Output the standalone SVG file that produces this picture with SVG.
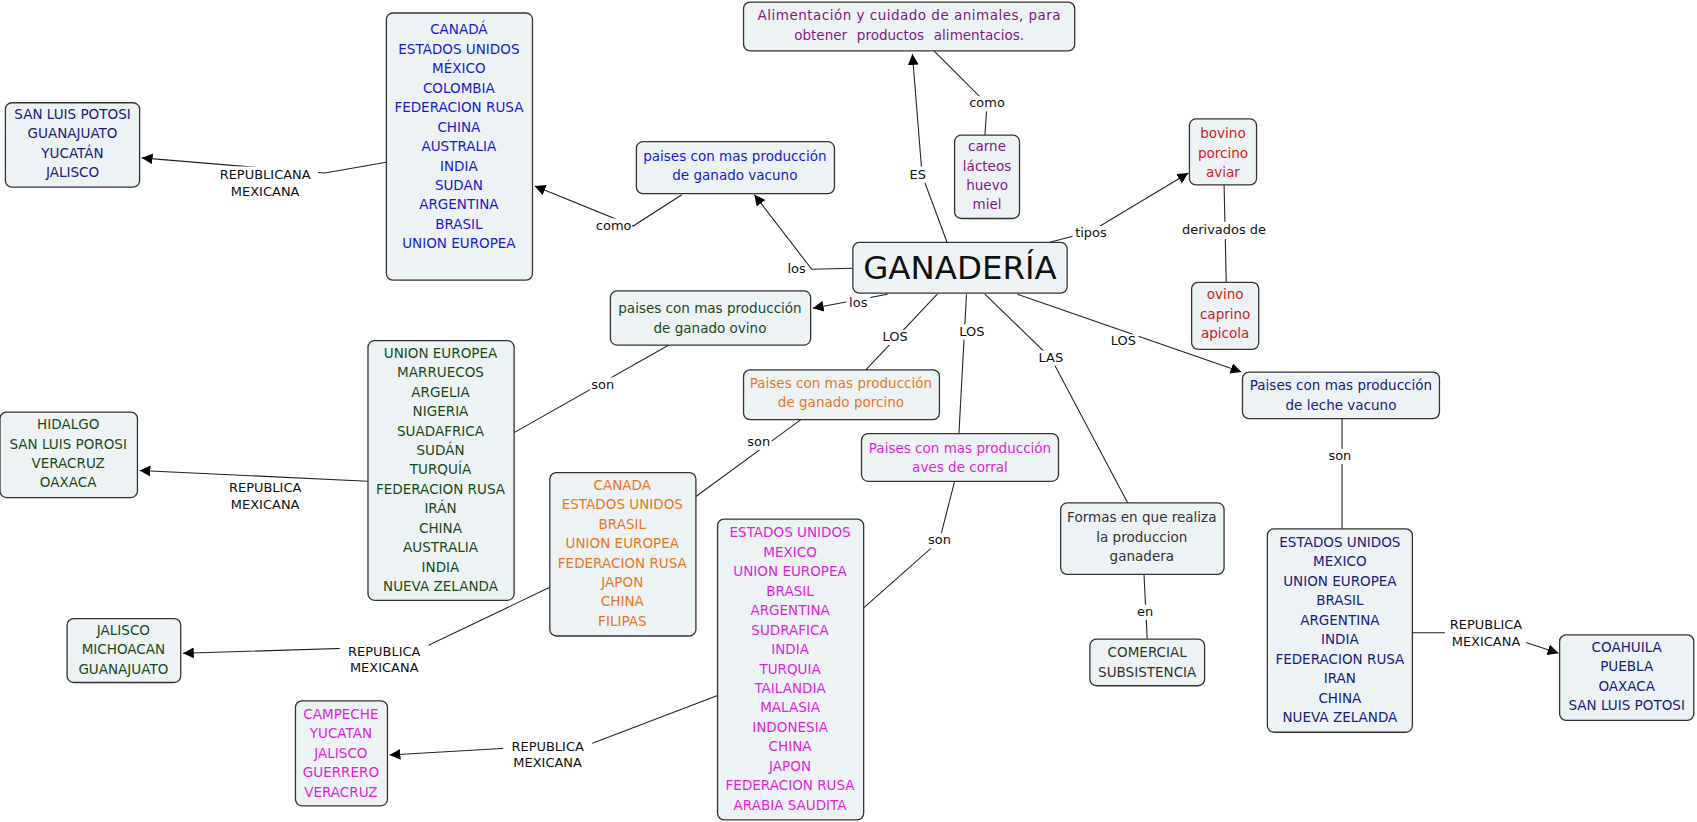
<svg xmlns="http://www.w3.org/2000/svg" width="1697" height="822" viewBox="0 0 1697 822">
<defs>
<marker id="ar" viewBox="0 0 10 10" refX="10" refY="5" markerWidth="10" markerHeight="10" markerUnits="userSpaceOnUse" orient="auto"><path d="M0,0 L10,5 L0,10 z" fill="#000"/></marker>
<style>
.b{fill:#edf3f5;stroke:#333;stroke-width:1.2}
text{font-family:"DejaVu Sans",Verdana,sans-serif;font-size:12.5px;text-anchor:middle;dominant-baseline:middle}
.l{font-size:12px;fill:#111}
.c{fill:none;stroke:#222;stroke-width:1}
.a{marker-end:url(#ar)}
.bl{fill:#1a1ad0}.nv{fill:#1a2080}.pu{fill:#801a80}.rd{fill:#d01a1a}.gr{fill:#1a4a1a}.or{fill:#e87722}.mg{fill:#e01ee0}.dk{fill:#333}
</style>
</defs>
<rect width="1697" height="822" fill="#fff"/>
<g transform="scale(1.0823,1.0816)">
<g id="connectors">
<path class="c a" d="M875,224 L852,162 L843,50"/><rect x="838" y="154" width="20" height="15" fill="#fff"/><text class="l" x="848" y="162">ES</text>
<path class="c" d="M910,125 L912,96 L863,47"/><rect x="895" y="89" width="34" height="14" fill="#fff"/><text class="l" x="912" y="96">como</text>
<path class="c a" d="M970,224 L1008,214 L1098,160"/><rect x="991" y="209" width="34" height="14" fill="#fff"/><text class="l" x="1008" y="216">tipos</text>
<path class="c" d="M1131,171 L1133,261"/><rect x="1086" y="205" width="90" height="16" fill="#fff"/><text class="l" x="1131" y="213">derivados de</text>
<path class="c a" d="M788,248 L750,249 L697,180"/><text class="l" x="736" y="249">los</text>
<path class="c a" d="M630,180 L585,209 L494,172"/><rect x="550" y="202" width="34" height="14" fill="#fff"/><text class="l" x="567" y="209">como</text>
<path class="c a" d="M357,150 L300,160 L131,146"/><rect x="198" y="154" width="96" height="32" fill="#fff"/><text class="l" x="245" y="162">REPUBLICANA</text><text class="l" x="245" y="178">MEXICANA</text>
<path class="c a" d="M820,272 L751,285"/><rect x="782" y="274" width="22" height="14" fill="#fff"/><text class="l" x="793" y="281">los</text>
<path class="c" d="M618,319 L475,400"/><rect x="545" y="349" width="24" height="14" fill="#fff"/><text class="l" x="557" y="356">son</text>
<path class="c a" d="M340,445 L129,435"/><rect x="204" y="444" width="82" height="31" fill="#fff"/><text class="l" x="245" y="452">REPUBLICA</text><text class="l" x="245" y="467">MEXICANA</text>
<path class="c" d="M866,272 L800,342"/><rect x="813" y="305" width="28" height="14" fill="#fff"/><text class="l" x="827" y="312">LOS</text>
<path class="c" d="M740,388 L643,459"/><rect x="689" y="402" width="24" height="14" fill="#fff"/><text class="l" x="701" y="409">son</text>
<path class="c a" d="M508,543 L395,597 L169,604"/><rect x="314" y="595" width="82" height="31" fill="#fff"/><text class="l" x="355" y="603">REPUBLICA</text><text class="l" x="355" y="618">MEXICANA</text>
<path class="c" d="M893,272 L886,401"/><rect x="884" y="300" width="28" height="14" fill="#fff"/><text class="l" x="898" y="307">LOS</text>
<path class="c" d="M882,445 L868,500 L798,562"/><rect x="856" y="493" width="24" height="14" fill="#fff"/><text class="l" x="868" y="500">son</text>
<path class="c a" d="M663,643 L548,687 L360,698"/><rect x="465" y="683" width="82" height="31" fill="#fff"/><text class="l" x="506" y="691">REPUBLICA</text><text class="l" x="506" y="706">MEXICANA</text>
<path class="c" d="M910,272 L971,331 L1042,465"/><rect x="959" y="324" width="24" height="14" fill="#fff"/><text class="l" x="971" y="331">LAS</text>
<path class="c" d="M1057,531 L1060,591"/><rect x="1049" y="559" width="18" height="14" fill="#fff"/><text class="l" x="1058" y="566">en</text>
<path class="c a" d="M940,272 L1147,344"/><rect x="1024" y="309" width="28" height="14" fill="#fff"/><text class="l" x="1038" y="316">LOS</text>
<path class="c" d="M1240,387 L1240,489"/><rect x="1226" y="415" width="24" height="14" fill="#fff"/><text class="l" x="1238" y="422">son</text>
<path class="c a" d="M1305,585 L1335,585 M1410,594 L1440,604"/><text class="l" x="1373" y="578">REPUBLICA</text><text class="l" x="1373" y="594">MEXICANA</text>
</g>
<g id="n_top"><rect class="b" x="687" y="2" width="306" height="45" rx="6"/><text class="pu" x="840" y="15" textLength="280" lengthAdjust="spacing">Alimentación y cuidado de animales, para</text><text class="pu" x="840" y="33" style="word-spacing:5px">obtener productos alimentacios.</text></g>
<g id="n_canada" class="bl"><rect class="b" x="357" y="12" width="135" height="247" rx="6"/>
<text x="424" y="28">CANADÁ</text><text x="424" y="46">ESTADOS UNIDOS</text><text x="424" y="64">MÉXICO</text><text x="424" y="82">COLOMBIA</text><text x="424" y="100">FEDERACION RUSA</text><text x="424" y="118">CHINA</text><text x="424" y="136">AUSTRALIA</text><text x="424" y="154">INDIA</text><text x="424" y="172">SUDAN</text><text x="424" y="190">ARGENTINA</text><text x="424" y="208">BRASIL</text><text x="424" y="226">UNION EUROPEA</text></g>
<g id="n_slp" class="nv"><rect class="b" x="5" y="95" width="124" height="78" rx="6"/>
<text x="67" y="106">SAN LUIS POTOSI</text><text x="67" y="124">GUANAJUATO</text><text x="67" y="142">YUCATÁN</text><text x="67" y="160">JALISCO</text></g>
<g id="n_vacuno" class="bl"><rect class="b" x="588" y="131" width="183" height="48" rx="6"/><text x="679" y="145">paises con mas producción</text><text x="679" y="163">de ganado vacuno</text></g>
<g id="n_carne" class="pu"><rect class="b" x="882" y="125" width="60" height="77" rx="6"/><text x="912" y="136">carne</text><text x="912" y="154">lácteos</text><text x="912" y="172">huevo</text><text x="912" y="190">miel</text></g>
<g id="n_bovino" class="rd"><rect class="b" x="1099" y="110" width="62" height="61" rx="6"/><text x="1130" y="124">bovino</text><text x="1130" y="142">porcino</text><text x="1130" y="160">aviar</text></g>
<g id="n_ovino2" class="rd"><rect class="b" x="1101" y="261" width="62" height="62" rx="6"/><text x="1132" y="273">ovino</text><text x="1132" y="291">caprino</text><text x="1132" y="309">apicola</text></g>
<g id="n_gan"><rect class="b" x="788" y="224" width="198" height="47" rx="6"/><text x="887" y="250" style="font-size:30px;fill:#111">GANADERÍA</text></g>
<g id="n_ovino" class="gr"><rect class="b" x="564" y="269" width="185" height="50" rx="6"/><text x="656" y="286">paises con mas producción</text><text x="656" y="304">de ganado ovino</text></g>
<g id="n_ue" class="gr"><rect class="b" x="340" y="315" width="135" height="240" rx="6"/>
<text x="407" y="327">UNION EUROPEA</text><text x="407" y="345">MARRUECOS</text><text x="407" y="363">ARGELIA</text><text x="407" y="381">NIGERIA</text><text x="407" y="399">SUADAFRICA</text><text x="407" y="417">SUDÁN</text><text x="407" y="435">TURQUÍA</text><text x="407" y="453">FEDERACION RUSA</text><text x="407" y="471">IRÁN</text><text x="407" y="489">CHINA</text><text x="407" y="507">AUSTRALIA</text><text x="407" y="525">INDIA</text><text x="407" y="543">NUEVA ZELANDA</text></g>
<g id="n_hid" class="gr"><rect class="b" x="0" y="381" width="127" height="79" rx="6"/><text x="63" y="393">HIDALGO</text><text x="63" y="411">SAN LUIS POROSI</text><text x="63" y="429">VERACRUZ</text><text x="63" y="447">OAXACA</text></g>
<g id="n_porcino" class="or"><rect class="b" x="687" y="342" width="181" height="46" rx="6"/><text x="777" y="355">Paises con mas producción</text><text x="777" y="373">de ganado porcino</text></g>
<g id="n_aves" class="mg"><rect class="b" x="796" y="401" width="182" height="44" rx="6"/><text x="887" y="415">Paises con mas producción</text><text x="887" y="433">aves de corral</text></g>
<g id="n_formas" class="dk"><rect class="b" x="980" y="465" width="151" height="66" rx="6"/><text x="1055" y="479">Formas en que realiza</text><text x="1055" y="497">la produccion</text><text x="1055" y="515">ganadera</text></g>
<g id="n_com" class="dk"><rect class="b" x="1007" y="591" width="106" height="43" rx="6"/><text x="1060" y="604">COMERCIAL</text><text x="1060" y="622">SUBSISTENCIA</text></g>
<g id="n_leche" class="nv"><rect class="b" x="1148" y="344" width="182" height="43" rx="6"/><text x="1239" y="357">Paises con mas producción</text><text x="1239" y="375">de leche vacuno</text></g>
<g id="n_eu" class="nv"><rect class="b" x="1171" y="489" width="134" height="188" rx="6"/>
<text x="1238" y="502">ESTADOS UNIDOS</text><text x="1238" y="520">MEXICO</text><text x="1238" y="538">UNION EUROPEA</text><text x="1238" y="556">BRASIL</text><text x="1238" y="574">ARGENTINA</text><text x="1238" y="592">INDIA</text><text x="1238" y="610">FEDERACION RUSA</text><text x="1238" y="628">IRAN</text><text x="1238" y="646">CHINA</text><text x="1238" y="664">NUEVA ZELANDA</text></g>
<g id="n_coa" class="nv"><rect class="b" x="1441" y="587" width="124" height="79" rx="6"/><text x="1503" y="599">COAHUILA</text><text x="1503" y="617">PUEBLA</text><text x="1503" y="635">OAXACA</text><text x="1503" y="653">SAN LUIS POTOSI</text></g>
<g id="n_canor" class="or"><rect class="b" x="508" y="437" width="135" height="151" rx="6"/>
<text x="575" y="449">CANADA</text><text x="575" y="467">ESTADOS UNIDOS</text><text x="575" y="485">BRASIL</text><text x="575" y="503">UNION EUROPEA</text><text x="575" y="521">FEDERACION RUSA</text><text x="575" y="539">JAPON</text><text x="575" y="557">CHINA</text><text x="575" y="575">FILIPAS</text></g>
<g id="n_jal" class="gr"><rect class="b" x="62" y="572" width="105" height="59" rx="6"/><text x="114" y="583">JALISCO</text><text x="114" y="601">MICHOACAN</text><text x="114" y="619">GUANAJUATO</text></g>
<g id="n_mg" class="mg"><rect class="b" x="663" y="480" width="135" height="278" rx="6"/>
<text x="730" y="493">ESTADOS UNIDOS</text><text x="730" y="511">MEXICO</text><text x="730" y="529">UNION EUROPEA</text><text x="730" y="547">BRASIL</text><text x="730" y="565">ARGENTINA</text><text x="730" y="583">SUDRAFICA</text><text x="730" y="601">INDIA</text><text x="730" y="619">TURQUIA</text><text x="730" y="637">TAILANDIA</text><text x="730" y="655">MALASIA</text><text x="730" y="673">INDONESIA</text><text x="730" y="691">CHINA</text><text x="730" y="709">JAPON</text><text x="730" y="727">FEDERACION RUSA</text><text x="730" y="745">ARABIA SAUDITA</text></g>
<g id="n_camp" class="mg"><rect class="b" x="273" y="648" width="85" height="97" rx="6"/><text x="315" y="661">CAMPECHE</text><text x="315" y="679">YUCATAN</text><text x="315" y="697">JALISCO</text><text x="315" y="715">GUERRERO</text><text x="315" y="733">VERACRUZ</text></g>
</g>
</svg>
